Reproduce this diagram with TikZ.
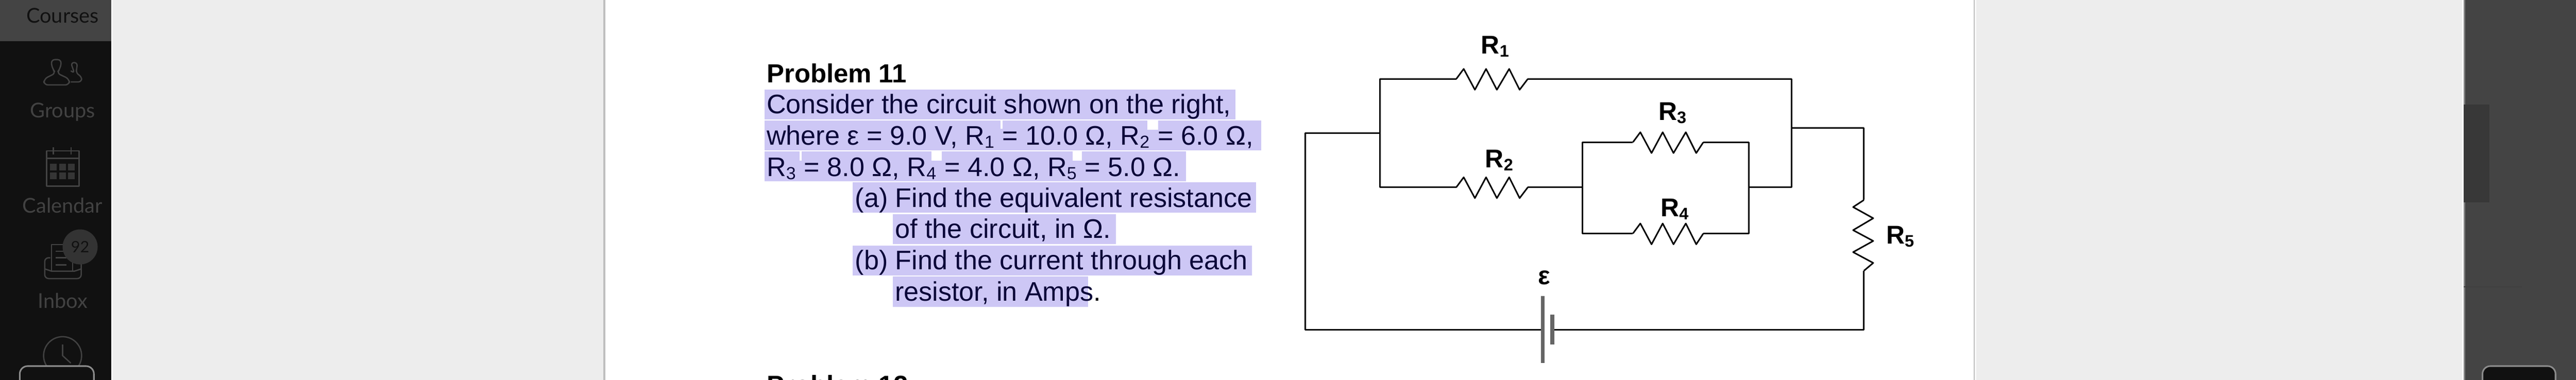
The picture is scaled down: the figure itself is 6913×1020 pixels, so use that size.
\documentclass[tikz,border=0pt]{standalone}
\usepackage{fontspec}
\setmainfont{Liberation Sans}
\newfontfamily\latofont{Lato}
\usepackage{xcolor}
\usepackage{tikz}
\usetikzlibrary{calc}
\definecolor{sideDark}{HTML}{111111}
\definecolor{sideGrey}{HTML}{444444}
\definecolor{iconGrey}{HTML}{424242}
\definecolor{gutter}{HTML}{EDEDED}
\definecolor{selectBlue}{HTML}{CDC7F5}
\definecolor{selectInk}{HTML}{0A0638}
\definecolor{plateGrey}{HTML}{666666}
\tikzset{
	wire/.style={black, line width=1.15pt, line join=round},
	icon/.style={iconGrey, line width=1pt, line join=round},
	sidetext/.style={inner sep=0pt, anchor=base, iconGrey, font=\latofont\fontsize{15.6pt}{18pt}\selectfont},
	bodyline/.style={inner sep=0pt, anchor=base west, selectInk, font=\fontsize{20.5pt}{24pt}\selectfont},
	headline/.style={inner sep=0pt, anchor=base west, black, font=\bfseries\fontsize{20pt}{24pt}\selectfont},
	partlabel/.style={inner sep=0pt, anchor=base west, black, font=\bfseries\fontsize{19.6pt}{22pt}\selectfont},
}
\newcommand{\lsub}[1]{\raisebox{-0.12em}{\fontsize{0.65em}{0.65em}\selectfont #1}\kern0.03em\relax}
\newcommand{\ResistorH}[1]{
	\draw[wire] (#1a) -- ++(20,-27) -- ++(30,56) -- ++(30,-56) -- ++(29,56) -- ++(33,-56) -- ++(28,56) -- (#1b);
}

\begin{document}
\begin{tikzpicture}[x=0.01cm, y=-0.01cm]
	\useasboundingbox (0,0) rectangle (6913,1020);
	\clip (0,0) rectangle (6913,1020);

	% page and the two dark sides
	\fill[gutter] (0,0) rectangle (6913,1020);
	\fill[white] (298,0) rectangle (302,1020);
	\fill[white] (1624,0) rectangle (5296,1020);
	\fill[black!25] (1619,0) rectangle (1624,1020);
	\fill[black!25] (5296,0) rectangle (5300,1020);
	\fill[white!60!gutter] (5300,0) rectangle (5303,1020);
	\fill[sideDark] (0,0) rectangle (298,1020);
	\fill[sideGrey] (0,0) rectangle (298,110);
	\fill[white] (6608,0) rectangle (6612,1020);
	\fill[black!50] (6612,0) rectangle (6615,1020);
	\fill[sideGrey] (6615,0) rectangle (6913,1020);
	\fill[black!78] (6612,280) rectangle (6680,543);
	\draw[black!75, line width=0.7pt] (6612,770) -- (6768,770);
	\draw[fill=sideDark, draw=black!45, line width=1.2pt, rounded corners=6pt] (6662,1060) -- (6662,983) -- (6858,983) -- (6858,1060);

	% side menu
	\node[sidetext, sideDark] (courses) at (168,62) {Courses};
	\node[sidetext] (groups) at (168,316) {Groups};
	\node[sidetext] (calendar) at (168,571) {Calendar};
	\node[sidetext] (inbox) at (168,827) {Inbox};

	\draw[icon, rounded corners=3pt] (118,228) -- (118,212) -- (150,196) -- (140,184) -- (137,160) -- (165,160) -- (162,184) -- (152,196) -- (186,212) -- (186,228) -- cycle;
	\draw[icon, rounded corners=2.5pt] (190,190) -- (200,197) -- (190,168) -- (208,168) -- (204,197) -- (219,205) -- (219,220) -- (190,220);

	\draw[icon] (125,405) rectangle (212,500);
	\draw[icon] (125,425) -- (212,425);
	\draw[icon] (143,395) -- (143,415);
	\draw[icon] (191,395) -- (191,415);
	\foreach \lx in {143,168,192}
		\foreach \ly in {448,472}
			\fill[iconGrey!80!black] (\lx-9,\ly-9) rectangle (\lx+9,\ly+9);

	\draw[icon, rounded corners=3pt] (120,720) -- (120,748) -- (218,748) -- (218,692) -- (205,692);
	\draw[icon, rounded corners=3pt] (120,720) -- (120,692) -- (135,692);
	\draw[icon] (120,722) -- (138,728) -- (200,728) -- (218,722);
	\draw[icon] (138,728) -- (138,657) -- (195,657) -- (195,728);
	\foreach \ly in {675,692,711}
		\draw[icon] (150,\ly) -- (178,\ly);
	\node[circle, fill=black!80, minimum size=94*0.2845pt, inner sep=0pt, text=sideDark, font=\latofont\fontsize{12pt}{14pt}\selectfont] (badge) at (215,663) {92};

	\draw[icon] (168,955) circle (51);
	\draw[icon] (168,925) -- (168,955) -- (190,975);
	\draw[fill=sideDark, draw=black!45, line width=1.2pt, rounded corners=6pt] (53,1060) -- (53,983) -- (252,983) -- (252,1060);

	% selection behind the text
	\foreach \lx/\ly/\lend in {2052/240/3316, 2052/323/3385, 2052/406/3183, 2288/490/3371, 2396/575/2995, 2288/659/3360, 2396/743/2920}
		\fill[selectBlue] (\lx,\ly) rectangle (\lend,\ly+81);
	\fill[white] (2685,323) rectangle (2691,346);
	\fill[white] (3079,323) rectangle (3108,349);
	\fill[white] (2146,406) rectangle (2151,432);
	\fill[white] (2500,406) rectangle (2527,432);
	\fill[white] (2878,406) rectangle (2904,432);

	% problem text
	\node[headline] (title) at (2057,222) {Problem 11};
	\node[bodyline] (lineA) at (2057,305) {Consider the circuit shown on the right,};
	\node[bodyline] (lineB) at (2057,389) {where ε = 9.0 V, R\lsub{1} = 10.0 Ω, R\lsub{2} = 6.0 Ω,};
	\node[bodyline] (lineC) at (2057,473) {R\lsub{3} = 8.0 Ω, R\lsub{4} = 4.0 Ω, R\lsub{5} = 5.0 Ω.};
	\node[bodyline] (lineD) at (2294,557) {(a) Find the equivalent resistance};
	\node[bodyline] (lineE) at (2401,640) {of the circuit, in Ω.};
	\node[bodyline] (lineF) at (2294,724) {(b) Find the current through each};
	\node[bodyline] (lineG) at (2401,808) {resistor, in Amps{\color{black}.}};
	\node[headline] (nextTitle) at (2057,1059) {Problem 12};

	% circuit
	\coordinate (BL) at (3503,885);
	\coordinate (BR) at (5002,885);
	\coordinate (TL) at (3503,357);
	\coordinate (JL) at (3703,357);
	\coordinate (JLT) at (3703,212);
	\coordinate (JLB) at (3703,503);
	\coordinate (JRT) at (4808,212);
	\coordinate (JRB) at (4808,503);
	\coordinate (JR) at (4808,343);
	\coordinate (R5T) at (5002,343);
	\coordinate (BoxL) at (4246,503);
	\coordinate (BoxR) at (4693,503);
	\coordinate (BoxLT) at (4246,382);
	\coordinate (BoxRT) at (4693,382);
	\coordinate (BoxLB) at (4246,627);
	\coordinate (BoxRB) at (4693,627);

	\coordinate (R1a) at (3908,212);
	\coordinate (R1b) at (4100,212);
	\coordinate (R2a) at (3908,503);
	\coordinate (R2b) at (4100,503);
	\coordinate (R3a) at (4382,382);
	\coordinate (R3b) at (4571,382);
	\coordinate (R4a) at (4382,627);
	\coordinate (R4b) at (4571,627);
	\coordinate (R5a) at (5002,537);
	\coordinate (R5b) at (5002,727);
	\coordinate (BatA) at (4140,885);
	\coordinate (BatB) at (4166,885);

	\ResistorH{R1}
	\ResistorH{R2}
	\ResistorH{R3}
	\ResistorH{R4}
	\draw[wire] (R5a) -- ++(-29,19) -- ++(54,30) -- ++(-54,32) -- ++(54,29) -- ++(-54,30) -- ++(54,29) -- (R5b);

	\draw[wire] (BatA) -- (BL) -- (TL) -- (JL);
	\draw[wire] (JLB) -- (JLT) -- (R1a);
	\draw[wire] (R1b) -- (JRT) -- (JRB) -- (BoxR);
	\draw[wire] (JLB) -- (R2a);
	\draw[wire] (R2b) -- (BoxL);
	\draw[wire] (BoxLB) -- (BoxLT) -- (R3a);
	\draw[wire] (R3b) -- (BoxRT) -- (BoxRB) -- (R4b);
	\draw[wire] (R4a) -- (BoxLB);
	\draw[wire] (JR) -- (R5T) -- (R5a);
	\draw[wire] (R5b) -- (BR) -- (BatB);

	\draw[plateGrey, line width=3pt] (4140,795) -- (4140,975);
	\draw[plateGrey, line width=3pt] (4166,845) -- (4166,925);

	\node[partlabel] (labR1) at (3974,144) {R\lsub{1}};
	\node[partlabel] (labR2) at (3985,450) {R\lsub{2}};
	\node[partlabel] (labR3) at (4450,323) {R\lsub{3}};
	\node[partlabel] (labR4) at (4456,582) {R\lsub{4}};
	\node[partlabel] (labR5) at (5061,655) {R\lsub{5}};
	\node[partlabel] (labE) at (4127,764) {ε};
\end{tikzpicture}
\end{document}
